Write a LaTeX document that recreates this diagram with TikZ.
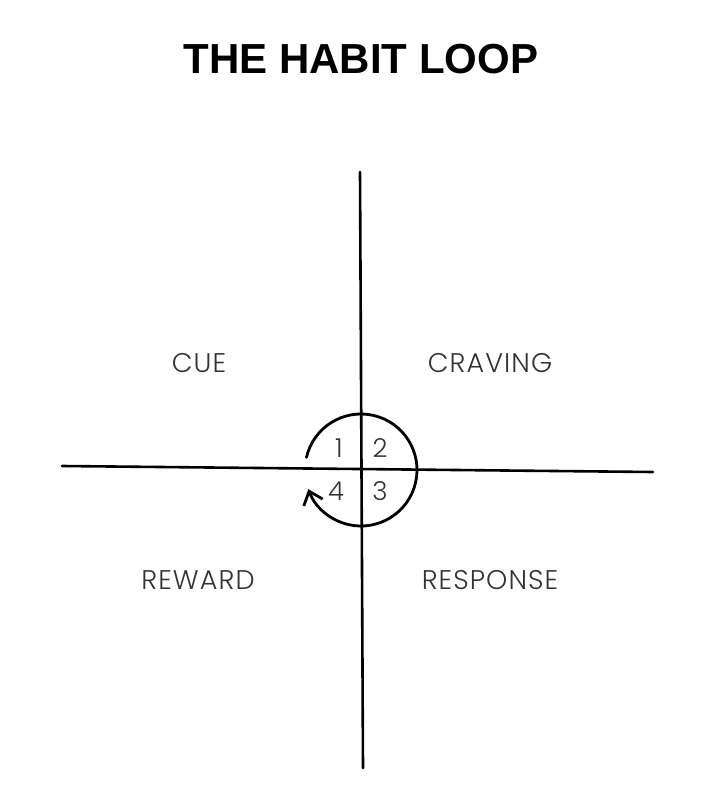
\documentclass[tikz,border=0pt]{standalone}
\usepackage{fontspec}
\setmainfont{Poppins}[UprightFont=* Light,LetterSpace=4]
\newfontfamily\titlefont{Liberation Sans}
\usepackage{tikz}
\usetikzlibrary{arrows.meta}
\definecolor{labelgray}{HTML}{333333}

\begin{document}
\begin{tikzpicture}[x=1pt,y=-1pt,line cap=round,line join=round,line width=2.6pt,
    quad/.style={text=labelgray,anchor=base,inner sep=0pt,font=\fontsize{27}{27}\selectfont},
    num/.style={text=labelgray,anchor=base,inner sep=0pt,font=\fontsize{26}{26}\selectfont}]
\useasboundingbox (0,0) rectangle (724,800);

\node[anchor=base,inner sep=0pt,font=\titlefont\bfseries\fontsize{42}{42}\selectfont] (title) at (361,74) {THE HABIT LOOP};

% axes
\coordinate (top) at (360,172);
\coordinate (bottom) at (363,768);
\coordinate (left) at (62,466);
\coordinate (right) at (653,472);
\draw (top) -- (bottom);
\draw (left) -- (right);

\foreach \nm/\x/\y/\txt in {cue/199/372/CUE, craving/490/372/CRAVING, reward/198/589/REWARD, response/490/589/RESPONSE}
    \node[quad] (\nm) at (\x,\y) {\txt};

\foreach \n/\x/\y in {1/339/457, 2/380/457, 3/380/500, 4/336/500}
    \node[num] (n\n) at (\x,\y) {\n};

% the loop
\coordinate (o) at (361,470);
\draw[line width=2.8pt,-{Straight Barb[length=12pt,width=20pt,line width=2.8pt]}]
    ([shift={(193:56)}]o) arc[start angle=193,end angle=520,radius=56];
\end{tikzpicture}
\end{document}
